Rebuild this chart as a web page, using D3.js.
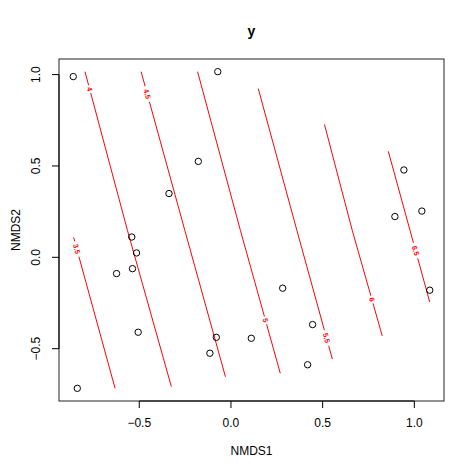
<!DOCTYPE html>
<html><head><meta charset="utf-8">
<script src="https://cdn.jsdelivr.net/npm/d3@7"></script>
<style>body{margin:0;background:#fff}svg{display:block;font-family:"Liberation Sans",Arial,sans-serif}</style>
</head><body><svg id="c" width="474" height="474"></svg>
<script>
// site scores (NMDS1, NMDS2)
const nmds1 = [-0.860,-0.072,-0.178,-0.338,-0.541,-0.515,-0.624,-0.537,-0.506,-0.080,-0.115,-0.838,0.943,0.894,1.041,0.282,0.111,0.445,0.418,1.084];
const nmds2 = [0.989,1.016,0.525,0.349,0.111,0.024,-0.089,-0.062,-0.410,-0.438,-0.525,-0.717,0.478,0.223,0.253,-0.169,-0.443,-0.368,-0.588,-0.180];
// fitted surface contours of y
const levels = ["3.5","4","4.5","5","5.5","6","6.5"];
const contourX = [
  [-0.858,-0.632],
  [-0.796,-0.564,-0.325],
  [-0.490,-0.251,-0.030],
  [-0.182,0.052,0.269],
  [0.149,0.360,0.553],
  [0.510,0.662,0.825],
  [0.858,0.977,1.084]
];
const contourY = [
  [0.109,-0.717],
  [1.016,0.1455,-0.708],
  [1.016,0.1455,-0.654],
  [1.016,0.1455,-0.635],
  [0.923,0.1455,-0.557],
  [0.727,0.1455,-0.430],
  [0.580,0.1455,-0.245]
];
const labelY = [0.046,0.921,0.894,-0.345,-0.441,-0.231,0.037];
const xTicks = [-0.5,0,0.5,1.0];
const yTicks = [-0.5,0,0.5,1.0];

const svg = d3.select("#c");
const L=59,R=444,T=59,B=401;
const xe=d3.extent(nmds1), ye=d3.extent(nmds2);
const px=(xe[1]-xe[0])*0.04, py=(ye[1]-ye[0])*0.04;
const x=d3.scaleLinear().domain([xe[0]-px,xe[1]+px]).range([L,R]);
const y=d3.scaleLinear().domain([ye[0]-py,ye[1]+py]).range([B,T]);
const fmt=d3.format(".1f");

// contours with gaps for labels
const defs=svg.append("defs");
const line=d3.line().x(d=>x(d[0])).y(d=>y(d[1]));
levels.forEach((lev,i)=>{
  const pts=contourX[i].map((v,j)=>[v,contourY[i][j]]);
  const ly=labelY[i];
  let lx=pts[0][0], ang=0;
  for(let j=0;j<pts.length-1;j++){
    const a=pts[j],b=pts[j+1];
    if((ly<=a[1]&&ly>=b[1])||(ly>=a[1]&&ly<=b[1])){
      const t=(ly-a[1])/(b[1]-a[1]); lx=a[0]+t*(b[0]-a[0]);
      ang=Math.atan2(y(b[1])-y(a[1]),x(b[0])-x(a[0]))*180/Math.PI; break;
    }
  }
  const cx=x(lx), cy=y(ly);
  const w=lev.length*4+4;
  const m=defs.append("mask").attr("id","m"+i).attr("maskUnits","userSpaceOnUse")
    .attr("x",0).attr("y",0).attr("width",474).attr("height",474);
  m.append("rect").attr("width",474).attr("height",474).attr("fill","#fff");
  m.append("rect").attr("x",-w/2).attr("y",-3).attr("width",w).attr("height",6).attr("fill","#000")
    .attr("transform",`translate(${cx},${cy}) rotate(${ang})`);
  svg.append("path").attr("d",line(pts)).attr("fill","none").attr("stroke","#ff0000")
    .attr("stroke-width",1).attr("mask",`url(#m${i})`);
  svg.append("text").attr("transform",`translate(${cx},${cy}) rotate(${ang})`)
    .attr("text-anchor","middle").attr("dy","0.35em").attr("font-size",7.2)
    .attr("font-weight","bold").attr("fill","#ff0000").text(lev);
});

// points
svg.append("g").selectAll("circle").data(nmds1).join("circle")
  .attr("cx",(d)=>x(d)).attr("cy",(d,i)=>y(nmds2[i])).attr("r",3.2)
  .attr("fill","none").attr("stroke","#000").attr("stroke-width",1);

// box
svg.append("rect").attr("x",L).attr("y",T).attr("width",R-L).attr("height",B-T)
  .attr("fill","none").attr("stroke","#222").attr("stroke-width",1);

// x axis
const gx=svg.append("g").attr("stroke","#000");
gx.append("line").attr("x1",x(xTicks[0])).attr("x2",x(xTicks[xTicks.length-1])).attr("y1",B).attr("y2",B);
xTicks.forEach(t=>{
  gx.append("line").attr("x1",x(t)).attr("x2",x(t)).attr("y1",B).attr("y2",B+7);
  svg.append("text").attr("x",x(t)).attr("y",427).attr("text-anchor","middle")
    .attr("font-size",12).attr("fill","#000").text(fmt(t));
});
// y axis
const gy=svg.append("g").attr("stroke","#000");
gy.append("line").attr("y1",y(yTicks[0])).attr("y2",y(yTicks[yTicks.length-1])).attr("x1",L).attr("x2",L);
yTicks.forEach(t=>{
  gy.append("line").attr("y1",y(t)).attr("y2",y(t)).attr("x1",L).attr("x2",L-7);
  svg.append("text").attr("transform",`translate(39.5,${y(t)}) rotate(-90)`).attr("text-anchor","middle")
    .attr("font-size",12).attr("fill","#000").text(fmt(t));
});
// labels
svg.append("text").attr("x",(L+R)/2).attr("y",455).attr("text-anchor","middle").attr("font-size",12).text("NMDS1");
svg.append("text").attr("transform",`translate(19.5,${(T+B)/2}) rotate(-90)`).attr("text-anchor","middle").attr("font-size",12).text("NMDS2");
svg.append("text").attr("x",(L+R)/2).attr("y",36).attr("text-anchor","middle").attr("font-size",14).attr("font-weight","bold").text("y");
</script></body></html>
